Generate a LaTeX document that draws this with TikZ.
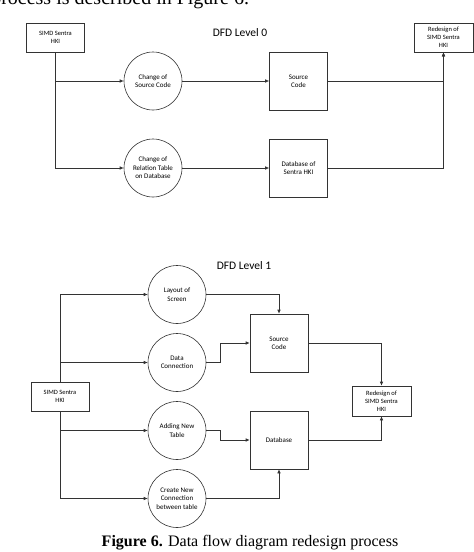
\documentclass[tikz,border=0pt]{standalone}
\usepackage{fontspec}
\setmainfont{Liberation Serif}
\newfontfamily\dfdfont{Carlito}
\usetikzlibrary{arrows.meta}
\tikzset{
	proc/.style={circle, draw, minimum size=58pt, inner sep=0pt, align=center, font=\dfdfont\fontsize{7}{8.5}\selectfont},
	store/.style={rectangle, draw, minimum width=58pt, minimum height=58pt, inner sep=0pt, align=center, font=\dfdfont\fontsize{7}{8.5}\selectfont},
	ent/.style={rectangle, draw, minimum width=58pt, minimum height=29pt, inner sep=0pt, align=center, font=\dfdfont\fontsize{6.5}{8}\selectfont},
	flow/.style={-{Latex[length=4pt,width=3.5pt]}},
	ttl/.style={font=\dfdfont\fontsize{11.5}{13}\selectfont}
}

\begin{document}
\begin{tikzpicture}[x=1pt, y=-1pt, line width=0.6pt, draw=black!80]
	\useasboundingbox (0,0) rectangle (474,552);
	\node[anchor=base west, inner sep=0pt, font=\fontsize{20}{22}\selectfont] (intro) at (-9,4) {process is described in Figure 6.};
	% DFD Level 0
	\node[ttl] (ttl0) at (240,33) {DFD Level 0};
	\node[ent] (sim0) at (55.5,37.5) {SIMD Sentra\\HKI};
	\node[ent, minimum width=59pt] (red0) at (443.5,37.5) {Redesign of\\SIMD Sentra\\HKI};
	\node[proc] (chg0) at (153,81) {Change of\\Source Code};
	\node[proc] (rel0) at (153,168) {Change of\\Relation Table\\on Database};
	\node[store] (src0) at (298.5,81) {Source\\Code};
	\node[store] (db0) at (298.5,168) {Database of\\Sentra HKI};
	\draw[flow] (sim0.south) |- (chg0.west);
	\draw[flow] (sim0.south) |- (rel0.west);
	\draw[flow] (chg0.east) -- (src0.west);
	\draw[flow] (rel0.east) -- (db0.west);
	\draw[flow] (src0.east) -| (red0.south);
	\draw[flow] (db0.east) -| (red0.south);
	% DFD Level 1
	\node[ttl] (ttl1) at (244,266) {DFD Level 1};
	\node[ent] (sim1) at (60,396.5) {SIMD Sentra\\HKI};
	\node[proc] (lay) at (177,294.5) {Layout of\\Screen};
	\node[proc] (dat) at (177,362.5) {Data\\Connection};
	\node[proc] (add) at (177,430.5) {Adding New\\Table};
	\node[proc] (crt) at (177,498.5) {Create New\\Connection\\between table};
	\node[store] (src1) at (279,343) {Source\\Code};
	\node[store] (db1) at (279,440) {Database};
	\node[ent, minimum width=59pt, minimum height=30pt] (red1) at (381.5,401) {Redesign of\\SIMD Sentra\\HKI};
	\draw[flow] (sim1.north) |- (lay.west);
	\draw[flow] (sim1.north) |- (dat.west);
	\draw[flow] (sim1.south) |- (add.west);
	\draw[flow] (sim1.south) |- (crt.west);
	\draw[flow] (lay.east) -| (src1.north);
	\draw[flow] (dat.east) -- ++(14,0) |- (src1.west);
	\draw[flow] (add.east) -- ++(14,0) |- (db1.west);
	\draw[flow] (crt.east) -| (db1.south);
	\draw[flow] (src1.east) -| (red1.north);
	\draw[flow] (db1.east) -| (red1.south);
	\node[font=\fontsize{16}{18}\selectfont] (cap) at (250,543) {\textbf{Figure 6.} Data flow diagram redesign process};
\end{tikzpicture}
\end{document}
